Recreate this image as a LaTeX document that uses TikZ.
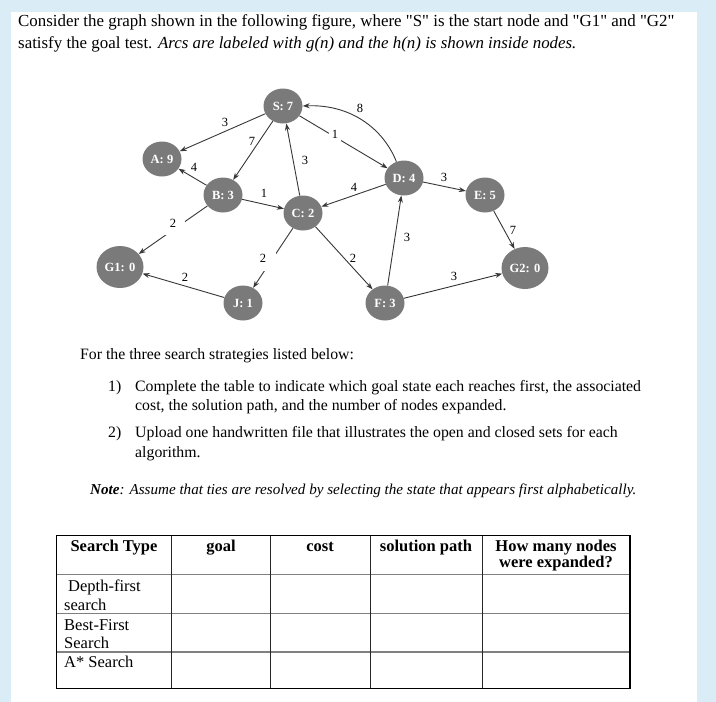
\documentclass[tikz,border=0pt]{standalone}
\usepackage{fontspec}
\setmainfont{Liberation Serif}
\usetikzlibrary{arrows.meta,shapes.geometric}
\definecolor{pagebg}{RGB}{218,237,246}
\definecolor{nodegray}{RGB}{122,122,122}
\definecolor{arcgray}{RGB}{55,55,55}
\definecolor{rulegray}{RGB}{128,128,128}
\newcommand{\qq}[1]{\textquotedbl#1\textquotedbl}
\tikzset{
  gnode/.style={ellipse, fill=nodegray, text=white, inner sep=0pt,
    minimum width=39pt, minimum height=35pt,
    font=\fontsize{12.5}{14}\selectfont\bfseries},
  goalnode/.style={gnode, minimum width=47pt, minimum height=42pt},
  arc/.style={draw=arcgray, line width=0.9pt, -{Stealth[length=7pt,width=5pt]}},
  cost/.style={font=\fontsize{12.5}{14}\selectfont, inner sep=1pt},
  gapcost/.style={cost, fill=white},
  body/.style={anchor=base west, inner sep=0pt, font=\fontsize{15.8}{19}\selectfont},
  cell/.style={anchor=base, inner sep=0pt, font=\fontsize{16.5}{19}\selectfont},
}
\begin{document}
\begin{tikzpicture}[x=1pt, y=-1pt]
  % Page and panel
  \fill[pagebg] (0,0) rectangle (716,702);
  \fill[white] (11,12) rectangle (697,702);
  \useasboundingbox (0,0) rectangle (716,702);

  % Question
  \node[body, font=\fontsize{16.9}{19}\selectfont] (intro1) at (18,26.5) {Consider the graph shown in the following figure, where \qq{S} is the start node and \qq{G1} and \qq{G2}};
  \node[body, font=\fontsize{16.9}{19}\selectfont] (intro2) at (18,48.5) {satisfy the goal test. \textit{Arcs are labeled with g(n) and the h(n) is shown inside nodes.}};

  % States, h(n) inside
  \node[gnode] (S) at (283,106) {S: 7};
  \node[gnode] (A) at (162,159) {A: 9};
  \node[gnode] (B) at (223,195) {B: 3};
  \node[gnode] (C) at (303,213) {C: 2};
  \node[gnode] (D) at (404,178) {D: 4};
  \node[gnode] (E) at (485,195) {E: 5};
  \node[gnode] (F) at (385,303) {F: 3};
  \node[gnode] (J) at (243,303) {J: 1};
  \node[goalnode] (G1) at (120,267) {G1: 0};
  \node[goalnode] (G2) at (525,268) {G2: 0};

  % Arcs, g(n) as labels
  \foreach \from/\to/\g/\lx/\ly in {S/A/3/225/122, S/B/7/252/141, C/S/3/305/160,
      B/A/4/194/167, B/C/1/264/193, C/F/2/353/258, D/C/4/354/187, J/G1/2/185/277,
      F/D/3/407/237, D/E/3/444/177, E/G2/7/513/230, F/G2/3/454/276}
    \draw[arc] (\from) -- (\to) node[cost, at={(\lx,\ly)}] {\g};

  % Arcs broken by their label
  \draw[arc] (S) -- (D) node[gapcost, inner sep=3pt, at={(335,134)}] {1};
  \draw[arc] (B) -- (G1) node[gapcost, minimum size=24pt, at={(173,223)}] {2};
  \draw[arc] (C) -- (J) node[gapcost, minimum size=26pt, at={(263,258)}] {2};

  % Curved arc D to S
  \draw[arc] (D.115) .. controls (383,128) and (350,104) .. (S.east)
    node[cost, at={(360,108)}] {8};

  % Instructions
  \node[body] (task) at (80,359) {For the three search strategies listed below:};
  \node[body] (num1) at (108,391) {1)};
  \node[body] (item1a) at (135,391) {Complete the table to indicate which goal state each reaches first, the associated};
  \node[body] (item1b) at (135,410) {cost, the solution path, and the number of nodes expanded.};
  \node[body] (num2) at (108,437) {2)};
  \node[body] (item2a) at (135,437) {Upload one handwritten file that illustrates the open and closed sets for each};
  \node[body] (item2b) at (135,457) {algorithm.};
  \node[body, font=\fontsize{15.1}{19}\selectfont] (note) at (90,494) {\textit{\textbf{Note}: Assume that ties are resolved by selecting the state that appears first alphabetically.}};

  % Table grid
  \foreach \y in {574.3, 613.3, 651.7}
    \draw[rulegray, line width=1.6pt] (56.7,\y) -- (630,\y);
  \foreach \x in {171.7, 270.7, 370, 482}
    \draw[black!85, line width=1pt] (\x,535.7) -- (\x,688.3);
  \draw[black, line width=1.4pt] (56.7,535.7) rectangle (630,688.3);

  % Table header
  \foreach \name/\cx/\cy/\txt in {hType/114/551.7/Search Type, hGoal/221/551.7/goal,
      hCost/320/551.7/cost, hPath/426/551.7/solution path,
      hCount1/556/551/How many nodes, hCount2/556/567.7/were expanded?}
    \node[cell, font=\fontsize{16.5}{19}\selectfont\bfseries] (\name) at (\cx,\cy) {\txt};

  % Table rows
  \foreach \name/\cx/\cy/\txt in {rDfs1/68/591.7/Depth-first, rDfs2/64/610/search,
      rBest1/64/630/Best-First, rBest2/64/648.3/Search, rAstar/64/667.7/A* Search}
    \node[cell, anchor=base west] (\name) at (\cx,\cy) {\txt};
\end{tikzpicture}
\end{document}
